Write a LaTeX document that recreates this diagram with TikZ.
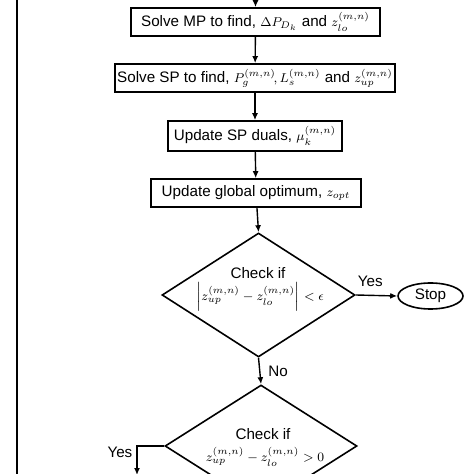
\documentclass[tikz,border=0pt]{standalone}
\usepackage{fontspec}
\usepackage{graphicx}
\setmainfont{Liberation Sans}
\DeclareMathSizes{7.6}{7.6}{6.1}{4.6}
\newcommand\mt[1]{\scalebox{0.8}{$#1$}}
\usetikzlibrary{shapes.geometric,arrows.meta}
\begin{document}
\begin{tikzpicture}[x=0.5pt,y=-0.5pt,
  font=\fontsize{7.6}{9.5}\selectfont,
  line width=0.7pt,
  arr/.style={-{Latex[length=3.5pt,width=3pt]}},
  boxnode/.style={draw,line width=0.8pt,rectangle,inner sep=0pt,minimum height=14pt},
  dia/.style={draw,line width=0.8pt,diamond,inner sep=0pt},
  lbl/.style={inner sep=0pt}]
\useasboundingbox (0,0) rectangle (474,474);
\fill[white] (0,0) rectangle (474,474);
\clip (0,0) rectangle (474,474);
\node[boxnode,minimum width=124.5pt] (b1) at (255.5,22) {Solve MP to find, \mt{\Delta P_{D_k}} and \mt{z_{lo}^{(m,n)}}};
\node[boxnode,minimum width=140pt] (b2) at (255,78) {Solve SP to find, \mt{P_g^{(m,n)}\!,L_s^{(m,n)}} and \mt{z_{up}^{(m,n)}}};
\node[boxnode,minimum width=87pt,minimum height=15pt] (b3) at (255,136) {Update SP duals, \mt{\mu_k^{(m,n)}}};
\node[boxnode,minimum width=105pt] (b4) at (256,193) {Update global optimum, \mt{z_{opt}}};
\node[dia,minimum width=96.5pt,minimum height=62pt] (d1) at (258.5,295) {};
\node[lbl] (d1a) at (258,273) {Check if};
\node[lbl] (d1b) at (260,297) {\mt{\left|z_{up}^{(m,n)}-z_{lo}^{(m,n)}\right|<\epsilon}};
\node[draw,line width=0.8pt,ellipse,inner sep=0pt,minimum width=32.5pt,minimum height=13pt] (stop) at (430.5,296) {Stop};
\node[dia,minimum width=96pt,minimum height=61pt] (d2) at (261,446) {};
\node[lbl] (d2a) at (263,434) {Check if};
\node[lbl] (d2b) at (265,457) {\mt{z_{up}^{(m,n)}-z_{lo}^{(m,n)}>0}};
\coordinate (top) at (255.5,-2);
\coordinate (ltop) at (17,-2);
\coordinate (lbot) at (17,476);
\coordinate (corner) at (137,446);
\coordinate (yesend) at (137,475);
\draw (ltop) -- (lbot);
\draw[arr] (top) -- (b1.north);
\draw[arr] (b1) -- (b2);
\draw[arr] (b2) -- (b3);
\draw[arr] (b3) -- (b4);
\draw[arr] (b4) -- (d1.north);
\draw[arr] (d1.east) -- node[lbl,above,yshift=4pt,pos=0.35] (yes1) {Yes} (stop.west);
\draw[arr] (d1.south) -- node[lbl,right,xshift=4pt] (no1) {No} (d2.north);
\draw[arr] (d2.west) -- (corner) -- (yesend);
\node[lbl,anchor=east,xshift=-2pt,yshift=-3pt] (yes2) at (corner) {Yes};
\end{tikzpicture}
\end{document}
